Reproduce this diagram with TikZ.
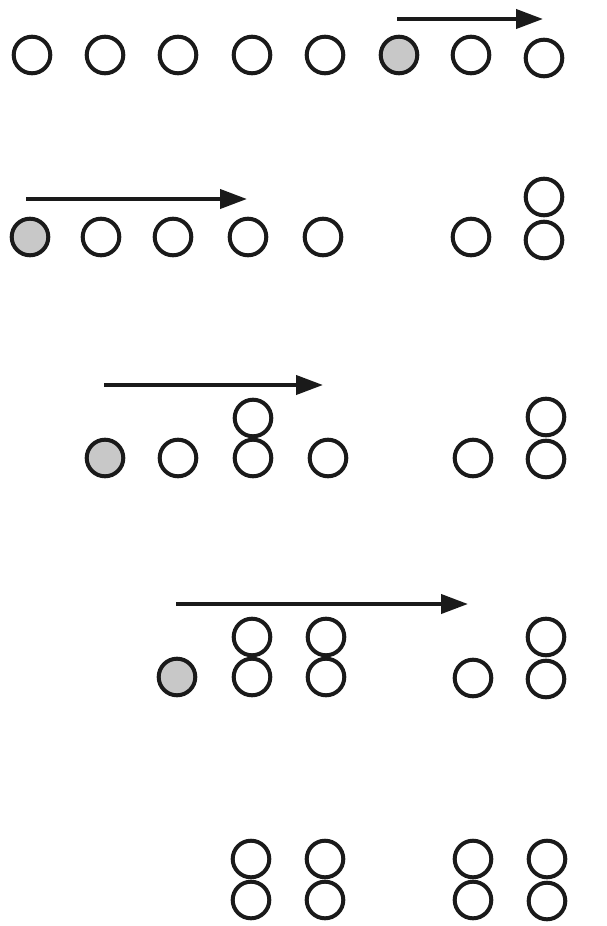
\documentclass[tikz,border=0pt]{standalone}
\usetikzlibrary{arrows.meta}
\definecolor{ink}{HTML}{1A1A1A}
\definecolor{ballgray}{HTML}{C8C8C8}
\begin{document}
\begin{tikzpicture}[x=1pt,y=-1pt,
  ball/.style={circle,draw=ink,line width=4pt,minimum size=36.6pt,inner sep=0pt,fill=white},
  moving/.style={ball,fill=ballgray},
  motion/.style={draw=ink,line width=4pt,-{Triangle[length=27pt,width=19pt]}}]
\useasboundingbox (0,0) rectangle (607,926);
% row 1
\node[ball] (a1) at (32,55) {};
\node[ball] (a2) at (105,55) {};
\node[ball] (a3) at (178,55) {};
\node[ball] (a4) at (252,55) {};
\node[ball] (a5) at (325,55) {};
\node[moving] (a6) at (399,55) {};
\node[ball] (a7) at (471,55) {};
\node[ball] (a8) at (544,58) {};
\coordinate (ra1) at (397,19);
\coordinate (ra2) at (543,19);
\draw[motion] (ra1) -- (ra2);
% row 2
\node[moving] (b1) at (30,237) {};
\node[ball] (b2) at (101,237) {};
\node[ball] (b3) at (173,237) {};
\node[ball] (b4) at (248,237) {};
\node[ball] (b5) at (323,237) {};
\node[ball] (b6) at (471,237) {};
\node[ball] (b7) at (544,240) {};
\node[ball] (b8) at (544,197) {};
\coordinate (rb1) at (26,199);
\coordinate (rb2) at (247,199);
\draw[motion] (rb1) -- (rb2);
% row 3
\node[moving] (c1) at (105,458) {};
\node[ball] (c2) at (178,458) {};
\node[ball] (c3) at (253,458) {};
\node[ball] (c4) at (253,418) {};
\node[ball] (c5) at (328,458) {};
\node[ball] (c6) at (473,458) {};
\node[ball] (c7) at (546,459) {};
\node[ball] (c8) at (546,417) {};
\coordinate (rc1) at (104,385);
\coordinate (rc2) at (323,385);
\draw[motion] (rc1) -- (rc2);
% row 4
\node[moving] (d1) at (177,677) {};
\node[ball] (d2) at (252,677) {};
\node[ball] (d3) at (252,637) {};
\node[ball] (d4) at (326,677) {};
\node[ball] (d5) at (326,637) {};
\node[ball] (d6) at (473,678) {};
\node[ball] (d7) at (546,679) {};
\node[ball] (d8) at (546,637) {};
\coordinate (rd1) at (176,604);
\coordinate (rd2) at (468,604);
\draw[motion] (rd1) -- (rd2);
% row 5
\node[ball] (e1) at (251,900) {};
\node[ball] (e2) at (251,859) {};
\node[ball] (e3) at (325,900) {};
\node[ball] (e4) at (325,859) {};
\node[ball] (e5) at (473,900) {};
\node[ball] (e6) at (473,859) {};
\node[ball] (e7) at (547,901) {};
\node[ball] (e8) at (547,859) {};
\end{tikzpicture}
\end{document}
